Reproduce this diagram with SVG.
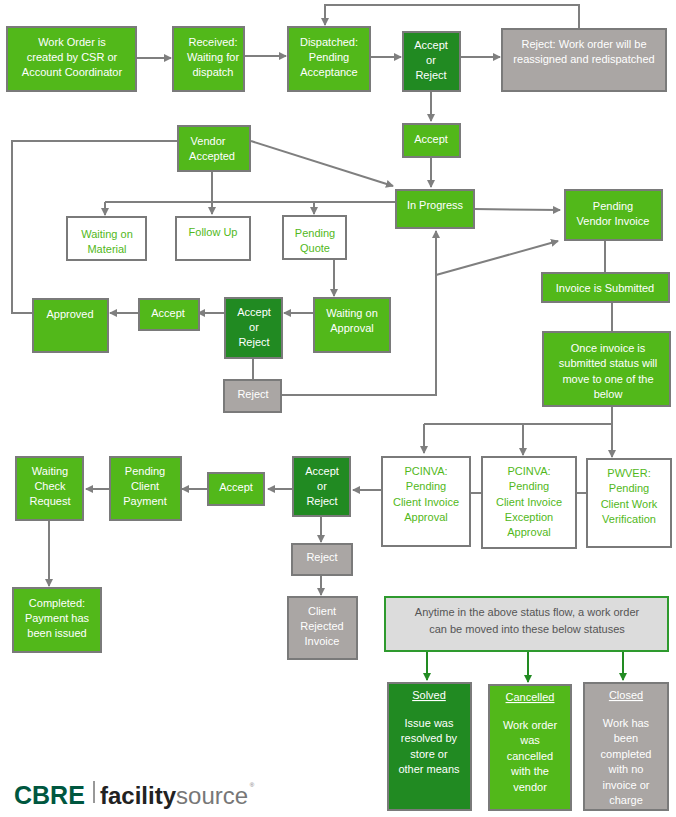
<svg xmlns="http://www.w3.org/2000/svg" width="676" height="817" viewBox="0 0 676 817">
<defs>
<marker id="a" markerWidth="8" markerHeight="8" refX="7" refY="4" orient="auto" markerUnits="userSpaceOnUse"><path d="M0,0 L8,4 L0,8 z" fill="#7f7f7f"/></marker>
<marker id="g" markerWidth="8" markerHeight="8" refX="7" refY="4" orient="auto" markerUnits="userSpaceOnUse"><path d="M0,0 L8,4 L0,8 z" fill="#228b22"/></marker>
<style>
rect{stroke:#7a7a7a;stroke-width:2}
.G{fill:#52b81a}.D{fill:#218a22}.Y{fill:#aaa6a4}.W{fill:#fff}
text{font-family:"Liberation Sans",Arial,sans-serif;font-size:11px;text-anchor:middle}
.t{fill:#fff}.gt{fill:#52b81a}.k{fill:#555}
.c path{fill:none;stroke:#7f7f7f;stroke-width:2}
.c path.m{marker-end:url(#a)}
.c path.gg{stroke:#228b22;marker-end:url(#g)}
</style>
</defs>
<rect width="676" height="817" fill="#fff" style="stroke:none"/>
<g class="c">
<path class="m" d="M136,58H171"/><path class="m" d="M244,56H286"/><path class="m" d="M370,57H401"/><path class="m" d="M460,57H500"/>
<path class="m" d="M579,29V5H325V25"/>
<path class="m" d="M431,91V121"/><path class="m" d="M431,157V187"/>
<path class="m" d="M251,141L393,186"/><path class="m" d="M212,171V214"/>
<path d="M178,141H12V313H33"/>
<path d="M396,202H105"/><path class="m" d="M105,202V215"/><path class="m" d="M314,202V214"/>
<path class="m" d="M474,209L560,210"/>
<path class="m" d="M281,395H436V231"/><path class="m" d="M436,275L558,241"/>
<path class="m" d="M334,259V296"/><path class="m" d="M314,313H284"/><path class="m" d="M225,313H198"/><path class="m" d="M139,313H110"/>
<path d="M253,358V380"/>
<path d="M605,240V273"/><path d="M612,302V332"/><path d="M612,406V424"/><path d="M424,424H612"/>
<path class="m" d="M424,424V453"/><path class="m" d="M523,424V455"/><path class="m" d="M612,424V457"/>
<path d="M470,493H482M576,493H587"/>
<path class="m" d="M382,490H353"/><path class="m" d="M293,489H268"/><path class="m" d="M208,489H182"/><path class="m" d="M110,489H86"/>
<path class="m" d="M49,520V586"/><path class="m" d="M321,516V542"/><path class="m" d="M321,575V595"/>
<path class="gg" d="M427,651V680"/><path class="gg" d="M528,651V682"/><path class="gg" d="M623,651V680"/>
</g>
<g id="n1"><rect class="G" x="7" y="27" width="129" height="64"/><text class="t" x="72" y="46">Work Order is</text><text class="t" x="72" y="61">created by CSR or</text><text class="t" x="72" y="76">Account Coordinator</text></g>
<g id="n2"><rect class="G" x="173" y="27" width="71" height="64"/><text class="t" x="213" y="46">Received:</text><text class="t" x="213" y="61">Waiting for</text><text class="t" x="213" y="76">dispatch</text></g>
<g id="n3"><rect class="G" x="288" y="27" width="82" height="64"/><text class="t" x="329" y="46">Dispatched:</text><text class="t" x="329" y="61">Pending</text><text class="t" x="329" y="76">Acceptance</text></g>
<g id="n4"><rect class="D" x="403" y="32" width="57" height="59"/><text class="t" x="431" y="49">Accept</text><text class="t" x="431" y="64">or</text><text class="t" x="431" y="79">Reject</text></g>
<g id="n5"><rect class="Y" x="502" y="29" width="164" height="62"/><text class="t" x="584" y="48">Reject: Work order will be</text><text class="t" x="584" y="63">reassigned and redispatched</text></g>
<g id="n6"><rect class="G" x="403" y="124" width="57" height="33"/><text class="t" x="431" y="143">Accept</text></g>
<g id="n7"><rect class="G" x="396" y="190" width="78" height="38"/><text class="t" x="435" y="209">In Progress</text></g>
<g id="n8"><rect class="G" x="178" y="126" width="72" height="45"/><text class="t" x="208" y="145">Vendor</text><text class="t" x="212" y="160">Accepted</text></g>
<g id="n9"><rect class="W" x="67" y="217" width="79" height="43"/><text class="gt" x="107" y="238">Waiting on</text><text class="gt" x="107" y="253">Material</text></g>
<g id="n10"><rect class="W" x="176" y="217" width="74" height="43"/><text class="gt" x="213" y="236">Follow Up</text></g>
<g id="n11"><rect class="W" x="283" y="216" width="63" height="43"/><text class="gt" x="315" y="237">Pending</text><text class="gt" x="315" y="252">Quote</text></g>
<g id="n12"><rect class="G" x="565" y="190" width="97" height="50"/><text class="t" x="613" y="210">Pending</text><text class="t" x="613" y="225">Vendor Invoice</text></g>
<g id="n13"><rect class="G" x="314" y="298" width="76" height="54"/><text class="t" x="352" y="317">Waiting on</text><text class="t" x="352" y="332">Approval</text></g>
<g id="n14"><rect class="D" x="225" y="298" width="57" height="60"/><text class="t" x="254" y="316">Accept</text><text class="t" x="254" y="331">or</text><text class="t" x="254" y="346">Reject</text></g>
<g id="n15"><rect class="G" x="139" y="299" width="60" height="31"/><text class="t" x="168" y="317">Accept</text></g>
<g id="n16"><rect class="G" x="33" y="299" width="75" height="53"/><text class="t" x="70" y="318">Approved</text></g>
<g id="n17"><rect class="Y" x="224" y="380" width="57" height="32"/><text class="t" x="253" y="398">Reject</text></g>
<g id="n18"><rect class="G" x="542" y="273" width="127" height="29"/><text class="t" x="605" y="292">Invoice is Submitted</text></g>
<g id="n19"><rect class="G" x="543" y="332" width="127" height="74"/><text class="t" x="608" y="352">Once invoice is</text><text class="t" x="608" y="367">submitted status will</text><text class="t" x="608" y="383">move to one of the</text><text class="t" x="608" y="398">below</text></g>
<g id="n20"><rect class="W" x="382" y="457" width="88" height="89"/><text class="gt" x="426" y="475">PCINVA:</text><text class="gt" x="426" y="490">Pending</text><text class="gt" x="426" y="506">Client Invoice</text><text class="gt" x="426" y="521">Approval</text></g>
<g id="n21"><rect class="W" x="482" y="457" width="94" height="91"/><text class="gt" x="529" y="475">PCINVA:</text><text class="gt" x="529" y="490">Pending</text><text class="gt" x="529" y="506">Client Invoice</text><text class="gt" x="529" y="521">Exception</text><text class="gt" x="529" y="536">Approval</text></g>
<g id="n22"><rect class="W" x="587" y="459" width="84" height="88"/><text class="gt" x="629" y="477">PWVER:</text><text class="gt" x="629" y="492">Pending</text><text class="gt" x="629" y="508">Client Work</text><text class="gt" x="629" y="523">Verification</text></g>
<g id="n23"><rect class="D" x="293" y="457" width="57" height="59"/><text class="t" x="322" y="475">Accept</text><text class="t" x="322" y="490">or</text><text class="t" x="322" y="505">Reject</text></g>
<g id="n24"><rect class="G" x="208" y="473" width="56" height="32"/><text class="t" x="236" y="491">Accept</text></g>
<g id="n25"><rect class="G" x="110" y="457" width="71" height="63"/><text class="t" x="145" y="475">Pending</text><text class="t" x="145" y="490">Client</text><text class="t" x="145" y="505">Payment</text></g>
<g id="n26"><rect class="G" x="16" y="457" width="67" height="63"/><text class="t" x="50" y="475">Waiting</text><text class="t" x="50" y="490">Check</text><text class="t" x="50" y="505">Request</text></g>
<g id="n27"><rect class="G" x="13" y="588" width="88" height="64"/><text class="t" x="57" y="607">Completed:</text><text class="t" x="57" y="622">Payment has</text><text class="t" x="57" y="637">been issued</text></g>
<g id="n28"><rect class="Y" x="292" y="544" width="60" height="31"/><text class="t" x="322" y="561">Reject</text></g>
<g id="n29"><rect class="Y" x="288" y="597" width="69" height="62"/><text class="t" x="322" y="615">Client</text><text class="t" x="322" y="630">Rejected</text><text class="t" x="322" y="645">Invoice</text></g>
<g id="n30"><rect x="385" y="597" width="283" height="54" fill="#dcdcdc" style="stroke:#2e9a2e"/><text class="k" x="527" y="616">Anytime in the above status flow, a work order</text><text class="k" x="527" y="633">can be moved into these below statuses</text></g>
<g id="n31"><rect class="D" x="388" y="683" width="83" height="127"/><text class="t" x="429" y="699" text-decoration="underline">Solved</text><text class="t" x="429" y="727">Issue was</text><text class="t" x="429" y="742">resolved by</text><text class="t" x="429" y="758">store or</text><text class="t" x="429" y="773">other means</text></g>
<g id="n32"><rect class="G" x="489" y="685" width="82" height="125"/><text class="t" x="530" y="701" text-decoration="underline">Cancelled</text><text class="t" x="530" y="729">Work order</text><text class="t" x="530" y="744">was</text><text class="t" x="530" y="760">cancelled</text><text class="t" x="530" y="775">with the</text><text class="t" x="530" y="791">vendor</text></g>
<g id="n33"><rect class="Y" x="584" y="683" width="84" height="127"/><text class="t" x="626" y="699" text-decoration="underline">Closed</text><text class="t" x="626" y="727">Work has</text><text class="t" x="626" y="742">been</text><text class="t" x="626" y="758">completed</text><text class="t" x="626" y="773">with no</text><text class="t" x="626" y="789">invoice or</text><text class="t" x="626" y="804">charge</text></g>
<g id="logo">
<text x="14" y="804" style="text-anchor:start;font-size:25px;font-weight:bold;fill:#00573f">CBRE</text>
<path d="M94,781V803" stroke="#333" stroke-width="1"/>
<text x="100" y="804" style="text-anchor:start;font-size:24px"><tspan font-weight="bold" fill="#222">facility</tspan><tspan fill="#777">source</tspan></text>
<text x="252" y="787" style="font-size:6px;fill:#777">®</text>
</g>
</svg>
